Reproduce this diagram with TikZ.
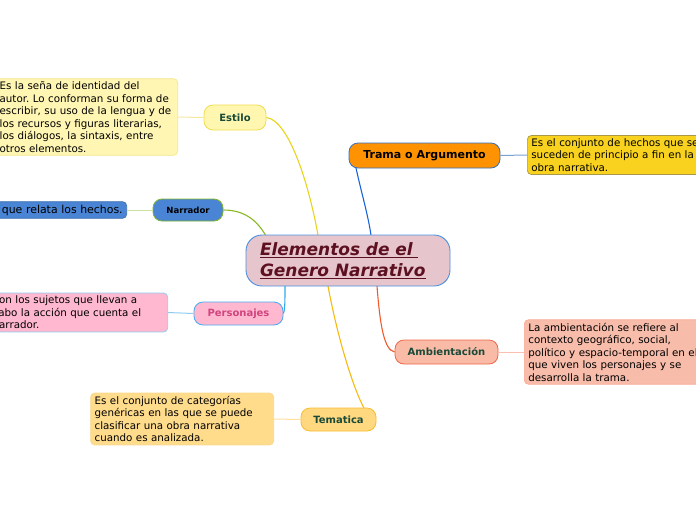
\documentclass[tikz,border=0pt]{standalone}
\usepackage{fontspec}
\setmainfont{DejaVu Sans}
\usepackage{tikz}
\frenchspacing

\definecolor{vino}{HTML}{5C1020}
\definecolor{verdeosc}{HTML}{1A4A38}
\definecolor{rosado}{HTML}{D0457E}
\definecolor{centrofondo}{RGB}{230,198,204}
\definecolor{centroborde}{RGB}{74,144,224}
% Estilo
\definecolor{estfondo}{RGB}{255,247,176}
\definecolor{estborde}{RGB}{240,220,80}
\definecolor{estrama}{RGB}{232,212,28}
\definecolor{estnota}{RGB}{255,246,180}
\definecolor{estnotaborde}{RGB}{246,230,140}
\definecolor{estenlace}{RGB}{244,232,160}
% Narrador
\definecolor{narfondo}{RGB}{74,132,212}
\definecolor{narborde}{RGB}{128,180,40}
\definecolor{narrama}{RGB}{136,184,32}
\definecolor{narnotaborde}{RGB}{64,112,176}
\definecolor{narenlace}{RGB}{200,224,160}
% Personajes
\definecolor{perfondo}{RGB}{255,184,208}
\definecolor{perborde}{RGB}{68,170,240}
\definecolor{perrama}{RGB}{48,168,240}
\definecolor{pernotaborde}{RGB}{144,204,240}
% Tematica
\definecolor{temfondo}{RGB}{255,216,128}
\definecolor{temborde}{RGB}{248,188,48}
\definecolor{temrama}{RGB}{248,184,16}
\definecolor{temnota}{RGB}{255,220,140}
\definecolor{temnotaborde}{RGB}{248,216,144}
\definecolor{temenlace}{RGB}{253,224,160}
% Trama
\definecolor{trafondo}{RGB}{255,146,0}
\definecolor{traborde}{RGB}{48,112,200}
\definecolor{trarama}{RGB}{26,100,216}
\definecolor{tranota}{RGB}{248,210,30}
\definecolor{tranotaborde}{RGB}{168,152,72}
\definecolor{traenlace}{RGB}{122,160,208}
% Ambientacion
\definecolor{ambfondo}{RGB}{249,187,166}
\definecolor{ambborde}{RGB}{240,104,72}
\definecolor{ambrama}{RGB}{240,90,42}
\definecolor{ambnota}{RGB}{248,188,170}
\definecolor{ambnotaborde}{RGB}{248,168,144}
\definecolor{ambenlace}{RGB}{248,192,176}

\tikzset{
  tema/.style={draw, rounded corners=9pt, line width=0.8pt, font=\bfseries\fontsize{10}{12}\selectfont, text=verdeosc, inner sep=0pt},
  nota/.style={draw, rounded corners=4pt, line width=0.7pt, font=\fontsize{10.3}{12.5}\selectfont, align=left, inner xsep=4pt, inner ysep=3pt},
  rama/.style={line width=1.1pt},
  enlace/.style={line width=1pt}
}

\begin{document}
\begin{tikzpicture}[x=1pt, y=-1pt]
  \useasboundingbox (0,0) rectangle (696,520);
  \clip (0,0) rectangle (696,520);

  % puntos de salida en el nodo central
  \coordinate (sEstilo) at (318,235);
  \coordinate (sNarrador) at (266,236);
  \coordinate (sTrama) at (371,235);
  \coordinate (sPersonajes) at (285,286);
  \coordinate (sTematica) at (328,286);
  \coordinate (sAmbiente) at (377,286);
  \coordinate (lTrama) at (356,168);
  \coordinate (lTematica) at (364,408);

  % temas
  \node[tema, fill=estfondo, draw=estborde, minimum width=62pt, minimum height=25pt] (estilo) at (235,117.5) {Estilo};
  \node[tema, fill=narfondo, draw=narborde, minimum width=70pt, minimum height=22pt, text=black,
        font=\bfseries\fontsize{8.5}{10}\selectfont] (narrador) at (188,210) {Narrador};
  \node[tema, fill=perfondo, draw=perborde, minimum width=89pt, minimum height=23pt, text=rosado] (personajes) at (238.5,313.5) {Personajes};
  \node[tema, fill=temfondo, draw=temborde, minimum width=75pt, minimum height=23pt] (tematica) at (338.5,419.5) {Tematica};
  \node[tema, fill=trafondo, draw=traborde, minimum width=151pt, minimum height=25pt, text=black,
        font=\bfseries\fontsize{11}{13}\selectfont] (trama) at (424.5,155.5) {Trama o Argumento};
  \node[tema, fill=ambfondo, draw=ambborde, minimum width=103pt, minimum height=24pt] (ambiente) at (446.5,352) {Ambientación};

  % ramas
  \draw[rama, estrama] (estilo.east) .. controls (288,120) and (308,180) .. (sEstilo);
  \draw[rama, narrama] (narrador.east) .. controls (246,210) and (258,222) .. (sNarrador);
  \draw[rama, trarama] (lTrama) .. controls (362,195) and (368,215) .. (sTrama);
  \draw[rama, perrama] (sPersonajes) .. controls (285,300) and (285,310) .. (personajes.east);
  \draw[rama, temrama] (sTematica) .. controls (338,340) and (354,390) .. (lTematica);
  \draw[rama, ambrama] (sAmbiente) .. controls (380,325) and (384,350) .. (ambiente.west);

  % nodo central
  \node[draw=centroborde, fill=centrofondo, line width=0.9pt,
        rounded corners=16pt, minimum height=51pt, text width=176pt, inner xsep=14pt, inner ysep=0pt,
        align=left, text=vino, font=\bfseries\itshape\fontsize{17}{21}\selectfont]
    (centro) at (348,260.5) {\underline{Elementos de el\ }\\\underline{Genero Narrativo}};

  % notas
  \node[nota, anchor=east, text width=174pt, fill=estnota, draw=estnotaborde] (notaestilo) at (178,117)
    {Es la seña de identidad del\\autor. Lo conforman su forma de\\escribir, su uso de la lengua y de\\los recursos y figuras literarias,\\los diálogos, la sintaxis, entre\\otros elementos.};
  \node[nota, anchor=east, text width=150pt, align=right, fill=narfondo, draw=narnotaborde,
        font=\fontsize{10.9}{13}\selectfont] (notanarrador) at (127,210)
    {que relata los hechos.};
  \node[nota, anchor=east, text width=171pt, fill=perfondo, draw=pernotaborde] (notapersonajes) at (168,312.5)
    {Son los sujetos que llevan a\\cabo la acción que cuenta el\\narrador.};
  \node[nota, anchor=east, text width=175pt, fill=temnota, draw=temnotaborde] (notatematica) at (274,419)
    {Es el conjunto de categorías\\genéricas en las que se puede\\clasificar una obra narrativa\\cuando es analizada.};
  \node[nota, anchor=west, text width=190pt, fill=tranota, draw=tranotaborde] (notatrama) at (527,155)
    {Es el conjunto de hechos que se\\suceden de principio a fin en la\\obra narrativa.};
  \node[nota, anchor=west, text width=190pt, fill=ambnota, draw=ambnotaborde] (notaambiente) at (524,352)
    {La ambientación se refiere al\\contexto geográfico, social,\\político y espacio-temporal en el\\que viven los personajes y se\\desarrolla la trama.};

  % enlaces a las notas
  \draw[enlace, estenlace] (estilo.west) -- (notaestilo.east);
  \draw[enlace, narenlace] (narrador.west) -- (notanarrador.east);
  \draw[enlace, pernotaborde] (personajes.west) -- (notapersonajes.east);
  \draw[enlace, temenlace] (tematica.west) -- (notatematica.east);
  \draw[enlace, traenlace] (trama.east) -- (notatrama.west);
  \draw[enlace, ambenlace] (ambiente.east) -- (notaambiente.west);
\end{tikzpicture}
\end{document}
